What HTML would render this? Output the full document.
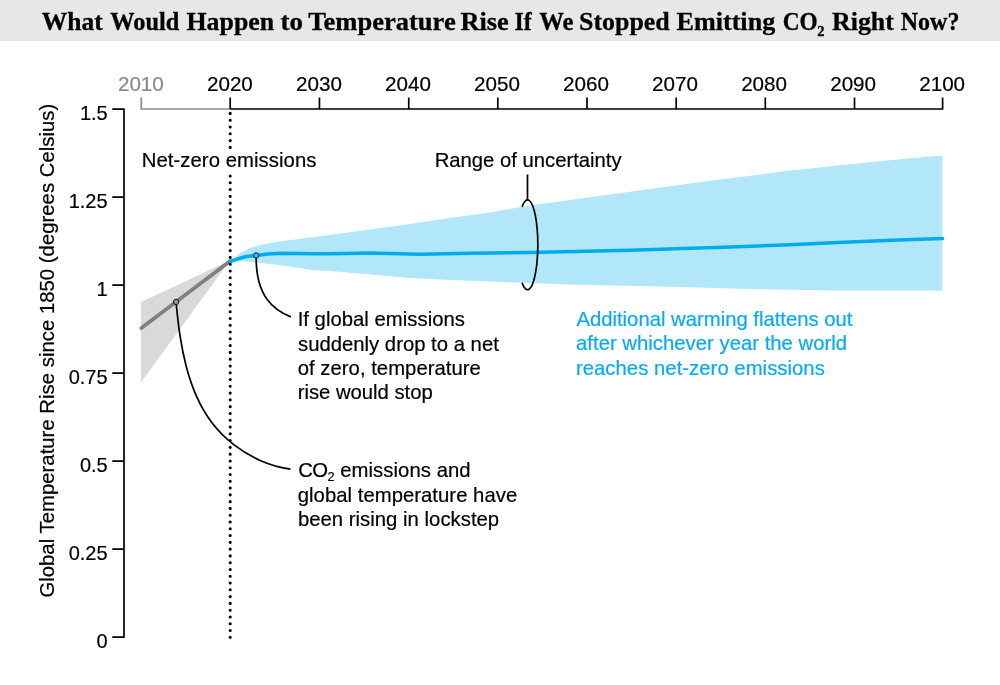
<!DOCTYPE html>
<html lang="en">
<head>
<meta charset="utf-8">
<title>What Would Happen to Temperature Rise If We Stopped Emitting CO2 Right Now?</title>
<style>
  html, body { margin: 0; padding: 0; background: #ffffff; }
  body { width: 1000px; height: 685px; overflow: hidden; }
  svg { display: block; }
  .sans { font-family: "Liberation Sans", sans-serif; font-size: 20.3px; fill: #000; stroke: #000; stroke-width: 0.2px; }
  .num { font-size: 21.0px; }
  .title { font-family: "Liberation Serif", serif; font-weight: bold; font-size: 26.0px; fill: #000; stroke: #000; stroke-width: 0.3px; }
  .ax { stroke: #000; stroke-width: 1.7; fill: none; stroke-linejoin: round; stroke-linecap: butt; }
  .axg { stroke: #8a8a8a; stroke-width: 1.7; fill: none; stroke-linejoin: round; stroke-linecap: butt; }
  .lead { stroke: #000; stroke-width: 1.7; fill: none; stroke-linecap: butt; }
</style>
</head>
<body>
<svg width="1000" height="685" viewBox="0 0 1000 685" role="img" aria-label="Line chart of projected global temperature rise after net-zero emissions">
<rect x="0" y="0" width="1000" height="41.1" fill="#e6e8e7"/>
<text class="title" y="29.5"><tspan x="41.76" textLength="60.87" lengthAdjust="spacingAndGlyphs">What</tspan> <tspan x="110.27" textLength="68.94" lengthAdjust="spacingAndGlyphs">Would</tspan> <tspan x="186.50" textLength="87.65" lengthAdjust="spacingAndGlyphs">Happen</tspan> <tspan x="280.48" textLength="22.47" lengthAdjust="spacingAndGlyphs">to</tspan> <tspan x="308.24" textLength="147.45" lengthAdjust="spacingAndGlyphs">Temperature</tspan> <tspan x="460.49" textLength="48.18" lengthAdjust="spacingAndGlyphs">Rise</tspan> <tspan x="514.58" textLength="17.22" lengthAdjust="spacingAndGlyphs">If</tspan> <tspan x="539.26" textLength="34.32" lengthAdjust="spacingAndGlyphs">We</tspan> <tspan x="579.00" textLength="90.79" lengthAdjust="spacingAndGlyphs">Stopped</tspan> <tspan x="676.50" textLength="98.74" lengthAdjust="spacingAndGlyphs">Emitting</tspan> <tspan x="782.63" textLength="34.99" lengthAdjust="spacingAndGlyphs">CO</tspan><tspan x="817.3" dy="6" style="font-size:14.5px">2</tspan><tspan dy="-6"> </tspan><tspan x="832.00" textLength="61.87" lengthAdjust="spacingAndGlyphs">Right</tspan> <tspan x="900.79" textLength="58.65" lengthAdjust="spacingAndGlyphs">Now?</tspan> </text>
<path fill="#b2e7fa" d="M231.5,260.6 L238.9,254.3 L248.1,248.7 L261.3,244.8 L274.4,242.2 L287.6,240.4 L308.0,237.8 L330.0,235.0 L370.0,229.4 L410.0,224.0 L450.0,218.0 L490.0,212.4 L530.0,205.6 L570.0,200.0 L610.0,194.4 L650.0,189.0 L690.0,183.6 L730.0,178.3 L784.0,171.3 L838.0,165.4 L892.0,160.0 L942.4,155.6 L942.4,290.4 L838.0,290.4 L730.0,288.6 L690.0,287.2 L650.0,286.2 L610.0,285.4 L570.0,284.4 L530.0,283.0 L490.0,281.6 L450.0,280.0 L410.0,278.0 L370.0,274.4 L330.0,271.0 L313.8,270.2 L300.7,268.3 L287.6,266.3 L274.4,264.6 L261.3,263.0 L242.0,261.3 L231.5,260.6 Z"/>
<path fill="#d9d9d9" d="M141,302.1 L229.9,260.6 L141,382.3 Z"/>
<path d="M141.4,328 L229.9,261.3" stroke="#808080" stroke-width="3.8" stroke-linecap="round" fill="none"/>
<path d="M229.9,261.7 L235.0,259.9 L241.6,257.7 L248.1,256.2 L256.0,255.6 L267.9,254.0 L281.0,253.3 L313.8,253.7 L330.0,253.8 L370.0,253.0 L420.0,254.2 L470.0,253.2 L530.0,252.4 L630.0,250.2 L730.0,247.1 L784.0,244.9 L838.0,242.5 L892.0,240.3 L942.6,238.5" stroke="#00abee" stroke-width="3.5" stroke-linecap="round" stroke-linejoin="round" fill="none"/>
<path d="M230.2,113.4 V148.5" stroke="#000" stroke-width="3.1" stroke-linecap="round" stroke-dasharray="0 6.8" fill="none"/>
<path d="M230.2,176 V638" stroke="#000" stroke-width="3.1" stroke-linecap="round" stroke-dasharray="0 6.784" fill="none"/>
<path class="axg" d="M141.3,97.4 V109.0 H230.2"/>
<path class="ax" d="M230.2,109.0 H942.6 V97.4 M230.2,97.4 V109.0 M319.45,97.4 V109.0 M408.75,97.4 V109.0 M497.8,97.4 V109.0 M587.0,97.4 V109.0 M676.2,97.4 V109.0 M765.3,97.4 V109.0 M854.5,97.4 V109.0"/>
<path class="ax" d="M112.3,109.2 H124.0 V637.2 H112.3 M112.3,197.2 H124.0 M112.3,285.2 H124.0 M112.3,373.2 H124.0 M112.3,461.2 H124.0 M112.3,549.2 H124.0"/>
<text class="sans num" x="117.92" y="91.2" textLength="45.89" lengthAdjust="spacingAndGlyphs" style="fill:#8a8a8a;stroke:#8a8a8a">2010</text>
<text class="sans num" x="206.95" y="91.2" textLength="45.89" lengthAdjust="spacingAndGlyphs">2020</text>
<text class="sans num" x="295.98" y="91.2" textLength="45.89" lengthAdjust="spacingAndGlyphs">2030</text>
<text class="sans num" x="385.01" y="91.2" textLength="45.89" lengthAdjust="spacingAndGlyphs">2040</text>
<text class="sans num" x="474.04" y="91.2" textLength="45.89" lengthAdjust="spacingAndGlyphs">2050</text>
<text class="sans num" x="563.07" y="91.2" textLength="45.89" lengthAdjust="spacingAndGlyphs">2060</text>
<text class="sans num" x="652.10" y="91.2" textLength="45.89" lengthAdjust="spacingAndGlyphs">2070</text>
<text class="sans num" x="741.13" y="91.2" textLength="45.89" lengthAdjust="spacingAndGlyphs">2080</text>
<text class="sans num" x="830.16" y="91.2" textLength="45.89" lengthAdjust="spacingAndGlyphs">2090</text>
<text class="sans num" x="919.19" y="91.2" textLength="45.89" lengthAdjust="spacingAndGlyphs">2100</text>
<text class="sans num" x="79.88" y="119.5" textLength="27.83" lengthAdjust="spacingAndGlyphs">1.5</text>
<text class="sans num" x="68.68" y="207.5" textLength="38.95" lengthAdjust="spacingAndGlyphs">1.25</text>
<text class="sans num" x="96.56" y="295.5" textLength="11.14" lengthAdjust="spacingAndGlyphs">1</text>
<text class="sans num" x="68.68" y="383.5" textLength="38.95" lengthAdjust="spacingAndGlyphs">0.75</text>
<text class="sans num" x="79.88" y="471.5" textLength="27.83" lengthAdjust="spacingAndGlyphs">0.5</text>
<text class="sans num" x="68.68" y="559.5" textLength="38.95" lengthAdjust="spacingAndGlyphs">0.25</text>
<text class="sans num" x="96.56" y="647.5" textLength="11.14" lengthAdjust="spacingAndGlyphs">0</text>
<text class="sans" transform="translate(53.5,597.6) rotate(-90)" style="letter-spacing:0.031px">Global Temperature Rise since 1850 (degrees Celsius)</text>
<text class="sans"><tspan x="141.75" y="166.6" style="letter-spacing:0.065px">Net-zero emissions</tspan></text>
<text class="sans"><tspan x="434.65" y="166.6" style="letter-spacing:-0.013px">Range of uncertainty</tspan></text>
<path class="lead" d="M527.5,174.5 V200"/>
<path class="lead" d="M522,206.9 A10.3,44.9 0 1 1 522,282.7"/>
<text class="sans"><tspan x="297.65" y="326.2" style="letter-spacing:0.025px">If global emissions</tspan> <tspan x="298.00" y="350.5" style="letter-spacing:0.005px">suddenly drop to a net</tspan> <tspan x="297.75" y="374.7" style="letter-spacing:0.021px">of zero, temperature</tspan> <tspan x="297.65" y="398.9" style="letter-spacing:-0.011px">rise would stop</tspan></text>
<text class="sans"><tspan x="298.20" y="477.4" style="letter-spacing:-0.700px">CO</tspan><tspan x="327.6" dy="3.6" style="font-size:12.6px">2</tspan><tspan dy="-3.6"> </tspan><tspan x="340.25" style="letter-spacing:0.058px">emissions and</tspan> <tspan x="297.75" y="501.5" style="letter-spacing:0.032px">global temperature have</tspan> <tspan x="297.95" y="525.6" style="letter-spacing:0.023px">been rising in lockstep</tspan></text>
<text class="sans" style="fill:#08abee;stroke:#08abee"><tspan x="576.40" y="326" style="letter-spacing:-0.003px">Additional warming flattens out</tspan> <tspan x="576.05" y="350.4" style="letter-spacing:0.017px">after whichever year the world</tspan> <tspan x="575.95" y="374.6" style="letter-spacing:0.036px">reaches net-zero emissions</tspan></text>
<path class="lead" d="M256.15,258 C256.2,296.8 274,310.5 290.9,316.9"/>
<path class="lead" d="M176.30,304.73 C177.26,314.73 178.41,325.03 179.98,335.39 C181.55,345.75 183.54,356.15 186.18,366.33 C188.83,376.51 192.13,386.47 196.32,395.93 C200.51,405.39 205.59,414.37 211.79,422.57 C217.99,430.78 225.41,438.22 233.71,444.65 C242.02,451.09 251.16,456.52 260.73,460.70 C270.31,464.88 280.32,467.79 290.46,469.07"/>
<circle cx="176.15" cy="301.9" r="2.7" fill="#939393" stroke="#000" stroke-width="0.85"/>
<circle cx="256.15" cy="255.45" r="2.7" fill="#35b5ee" stroke="#000" stroke-width="0.85"/>
</svg>
</body>
</html>
